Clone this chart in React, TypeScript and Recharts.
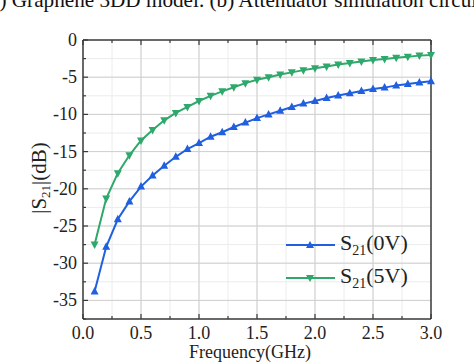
import {
    LineChart,
    Line,
    XAxis,
    YAxis,
    CartesianGrid,
    ReferenceLine,
    Legend
} from 'recharts'

const freq = [0.1, 0.2, 0.3, 0.4, 0.5, 0.6, 0.7, 0.8, 0.9, 1.0, 1.1, 1.2, 1.3, 1.4, 1.5,
    1.6, 1.7, 1.8, 1.9, 2.0, 2.1, 2.2, 2.3, 2.4, 2.5, 2.6, 2.7, 2.8, 2.9, 3.0]

const s21_0V = [-33.8, -27.8, -24.1, -21.7, -19.7, -18.2, -16.9, -15.7, -14.65, -13.85,
    -13.0, -12.4, -11.7, -11.1, -10.5, -10.0, -9.5, -9.0, -8.55, -8.2,
    -7.8, -7.45, -7.15, -6.85, -6.6, -6.4, -6.1, -5.9, -5.7, -5.55]

const s21_5V = [-27.5, -21.3, -17.9, -15.5, -13.5, -12.1, -10.8, -9.8, -9.0, -8.2,
    -7.5, -6.9, -6.35, -5.8, -5.35, -5.0, -4.65, -4.35, -4.05, -3.8,
    -3.55, -3.3, -3.1, -2.9, -2.7, -2.55, -2.4, -2.25, -2.1, -2.0]

const xTicks = [0, 0.25, 0.5, 0.75, 1.0, 1.25, 1.5, 1.75, 2.0, 2.25, 2.5, 2.75, 3.0]
const xMajor = [0.5, 1.0, 1.5, 2.0, 2.5]
const yTicks = [0, -2.5, -5, -7.5, -10, -12.5, -15, -17.5, -20, -22.5, -25, -27.5, -30, -32.5, -35, -37.5]
const yMajor = [-5, -10, -15, -20, -25, -30, -35]

const data = freq.map((f, i) => ({ f, s0: s21_0V[i], s5: s21_5V[i] }))

const FONT = '"Liberation Serif", "Times New Roman", serif'
const AXIS = '#3a3a3a'
const BLUE = '#1f5fe0'
const GREEN = '#2ea86b'

const isMajorX = (v: number) => Math.abs(v * 2 - Math.round(v * 2)) < 1e-6
const isMajorY = (v: number) => Math.abs(v / 5 - Math.round(v / 5)) < 1e-6

function BottomTick({ x, y, payload }: any) {
    const major = isMajorX(payload.value)
    return (
        <g>
            <line x1={x} x2={x} y1={y} y2={y - (major ? 5 : 3)} stroke={AXIS} strokeWidth={1.2} />
            {major && (
                <text x={x} y={y + 20} textAnchor="middle" fontSize={18} style={{ fontFamily: FONT }} fill="#222">
                    {payload.value.toFixed(1)}
                </text>
            )}
        </g>
    )
}

function TopTick({ x, y, payload }: any) {
    const major = isMajorX(payload.value)
    return <line x1={x} x2={x} y1={y} y2={y + (major ? 5 : 3)} stroke={AXIS} strokeWidth={1.2} />
}

function LeftTick({ x, y, payload }: any) {
    const major = isMajorY(payload.value)
    return (
        <g>
            <line x1={x} x2={x + (major ? 5 : 3)} y1={y} y2={y} stroke={AXIS} strokeWidth={1.2} />
            {major && (
                <text x={x - 6} y={y + 6} textAnchor="end" fontSize={18} style={{ fontFamily: FONT }} fill="#222">
                    {String(payload.value)}
                </text>
            )}
        </g>
    )
}

function RightTick({ x, y, payload }: any) {
    const major = isMajorY(payload.value)
    return <line x1={x} x2={x - (major ? 5 : 3)} y1={y} y2={y} stroke={AXIS} strokeWidth={1.2} />
}

function UpTri({ cx, cy }: any) {
    if (cx == null || cy == null) return null
    return <polygon points={`${cx},${cy - 4.5} ${cx - 4},${cy + 3} ${cx + 4},${cy + 3}`} fill={BLUE} />
}

function DownTri({ cx, cy }: any) {
    if (cx == null || cy == null) return null
    return <polygon points={`${cx},${cy + 4.5} ${cx - 4},${cy - 3} ${cx + 4},${cy - 3}`} fill={GREEN} />
}

function XTitle() {
    return (
        <text x={250} y={358} textAnchor="middle" fontSize={18} style={{ fontFamily: FONT }} fill="#222">
            Frequency(GHz)
        </text>
    )
}

function YTitle() {
    return (
        <text transform="translate(46,178) rotate(-90)" textAnchor="middle" fontSize={21} style={{ fontFamily: FONT }} fill="#222">
            <tspan>|S</tspan>
            <tspan fontSize={13} dy={4}>21</tspan>
            <tspan dy={-4}>|(dB)</tspan>
        </text>
    )
}

function LegendBox({ payload }: any) {
    return (
        <div style={{ fontFamily: FONT, color: '#222' }}>
            {(payload || []).map((e: any) => {
                const name = String(e.value)
                const up = e.dataKey === 's0'
                return (
                    <div key={name} style={{ display: 'flex', alignItems: 'center', height: 33 }}>
                        <svg width={52} height={12} style={{ marginRight: 4 }}>
                            <line x1={2} x2={51} y1={6} y2={6} stroke={e.color} strokeWidth={2} />
                            {up
                                ? <polygon points="26,2 22,9 30,9" fill={e.color} />
                                : <polygon points="26,10 22,3 30,3" fill={e.color} />}
                        </svg>
                        <span style={{ fontSize: 22, lineHeight: '22px' }}>
                            {name.slice(0, 1)}
                            <span style={{ fontSize: 14, position: 'relative', top: 5 }}>{name.slice(1, 3)}</span>
                            {name.slice(3)}
                        </span>
                    </div>
                )
            })}
        </div>
    )
}

export default function App() {
    return (
        <div style={{ position: 'absolute', left: 0, top: 0, width: 474, height: 364, overflow: 'hidden', background: '#fff' }}>
            <div
                style={{
                    position: 'absolute', left: -17, top: -10, whiteSpace: 'nowrap',
                    fontFamily: FONT, fontSize: 21.2, lineHeight: '21px', color: '#111'
                }}
            >
                (a) Graphene 3DD model. (b) Attenuator simulation circuit
            </div>
            <LineChart
                width={474}
                height={364}
                data={data}
                margin={{ top: 39, right: 42, bottom: 44, left: 82 }}
                style={{ position: 'absolute', left: 0, top: 0 }}
            >
                <CartesianGrid xAxisId="x" yAxisId="y" stroke="#ececec" strokeWidth={1} />
                {xMajor.map(v => (
                    <ReferenceLine key={'gx' + v} xAxisId="x" yAxisId="y" x={v} stroke="#cfcfcf" strokeWidth={1} />
                ))}
                {yMajor.map(v => (
                    <ReferenceLine key={'gy' + v} xAxisId="x" yAxisId="y" y={v} stroke="#cfcfcf" strokeWidth={1} />
                ))}

                <XAxis
                    xAxisId="x"
                    dataKey="f"
                    type="number"
                    domain={[0, 3]}
                    ticks={xTicks}
                    interval={0}
                    height={1}
                    tickSize={0}
                    tickMargin={0}
                    tickLine={false}
                    tick={<BottomTick />}
                    axisLine={{ stroke: AXIS, strokeWidth: 1.5 }}
                    label={<XTitle />}
                />
                <XAxis
                    xAxisId="xt"
                    orientation="top"
                    dataKey="f"
                    type="number"
                    domain={[0, 3]}
                    ticks={xTicks}
                    interval={0}
                    height={1}
                    tickSize={0}
                    tickMargin={0}
                    tickLine={false}
                    tick={<TopTick />}
                    axisLine={{ stroke: AXIS, strokeWidth: 1.5 }}
                />
                <YAxis
                    yAxisId="y"
                    type="number"
                    domain={[-37.5, 0]}
                    ticks={yTicks}
                    interval={0}
                    width={1}
                    tickSize={0}
                    tickMargin={0}
                    tickLine={false}
                    tick={<LeftTick />}
                    axisLine={{ stroke: AXIS, strokeWidth: 1.5 }}
                    label={<YTitle />}
                />
                <YAxis
                    yAxisId="yr"
                    orientation="right"
                    type="number"
                    domain={[-37.5, 0]}
                    ticks={yTicks}
                    interval={0}
                    width={1}
                    tickSize={0}
                    tickMargin={0}
                    tickLine={false}
                    tick={<RightTick />}
                    axisLine={{ stroke: AXIS, strokeWidth: 1.5 }}
                />

                <Line
                    xAxisId="x"
                    yAxisId="y"
                    type="linear"
                    dataKey="s0"
                    name="S21(0V)"
                    stroke={BLUE}
                    strokeWidth={2}
                    dot={<UpTri />}
                    activeDot={false}
                    isAnimationActive={false}
                />
                <Line
                    xAxisId="x"
                    yAxisId="y"
                    type="linear"
                    dataKey="s5"
                    name="S21(5V)"
                    stroke={GREEN}
                    strokeWidth={2}
                    dot={<DownTri />}
                    activeDot={false}
                    isAnimationActive={false}
                />

                <Legend
                    layout="vertical"
                    align="center"
                    verticalAlign="middle"
                    content={<LegendBox />}
                    wrapperStyle={{ left: 284, top: 228, width: 160 }}
                />
            </LineChart>
        </div>
    )
}
